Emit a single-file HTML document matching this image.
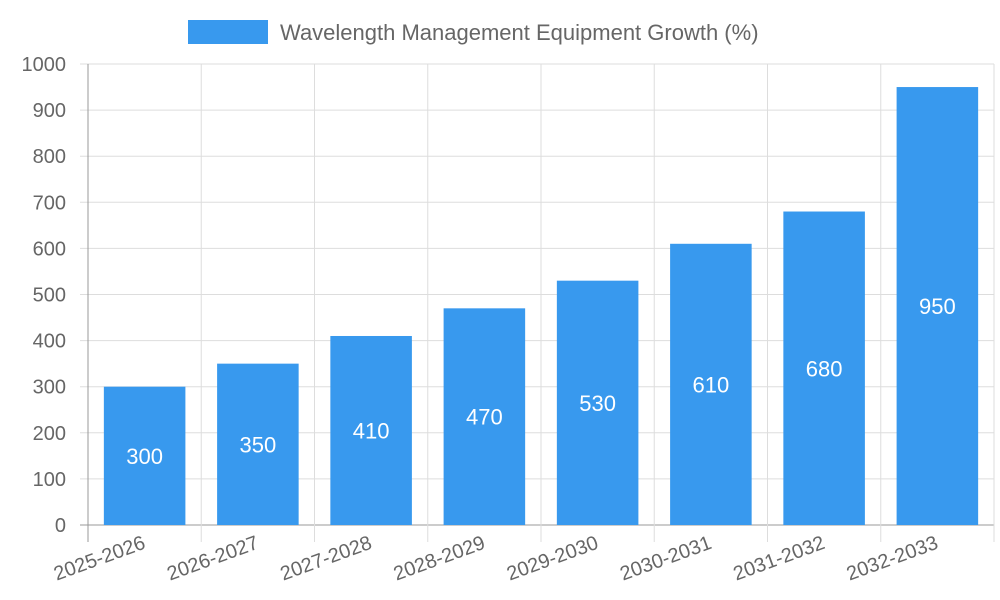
<!DOCTYPE html>
<html><head><meta charset="utf-8"><style>
body{margin:0;background:#fff;font-family:"Liberation Sans",sans-serif;}
svg{display:block}
</style></head><body>
<svg id="chart" width="1000" height="600">
<g id="legend">
<rect x="188" y="20" width="80" height="24" fill="#3899ee"/>
<text x="280" y="40" font-size="22" fill="#666">Wavelength Management Equipment Growth (%)</text>
</g>
<g id="grid"></g><g id="bars"></g><g id="axes"></g>
</svg>
<script>
const categories=["2025-2026","2026-2027","2027-2028","2028-2029","2029-2030","2030-2031","2031-2032","2032-2033"];
const values=[300,350,410,470,530,610,680,950];
const yTicks=[0,100,200,300,400,500,600,700,800,900,1000];
const L=88,R=994,T=64,B=525,yMax=1000;
const cw=(R-L)/categories.length;
const y=v=>B-(v/yMax)*(B-T);
const xc=i=>L+cw*(i+0.5);
const NS="http://www.w3.org/2000/svg";
function mk(tag,attrs,parent,txt){const e=document.createElementNS(NS,tag);for(const k in attrs)e.setAttribute(k,attrs[k]);if(txt!==undefined)e.textContent=txt;document.getElementById(parent).appendChild(e);return e;}
yTicks.forEach(t=>{
 const g=mk('line',{x1:L-8,x2:R,y1:y(t),y2:y(t),stroke:t===0?'#999':'#ddd','stroke-width':1},'grid');
 
 
 const l=mk('text',{x:66,y:y(t)+7,'font-size':20,fill:'#666','text-anchor':'end'},'axes',String(t));
 
 
});
for(let i=0;i<=categories.length;i++){
 const gx=L+cw*i;
 const g=mk('line',{x1:gx,x2:gx,y1:T,y2:B+17,stroke:i===0?'#999':'#ddd','stroke-width':1},'grid');
 
 
}
categories.forEach((c,i)=>{
 const bw=cw*0.72;
 const r=mk('rect',{x:xc(i)-bw/2,y:y(values[i]),width:bw,height:B-y(values[i]),fill:'#3899ee'},'bars');
 
 
 const v=mk('text',{x:xc(i),y:(y(values[i])+B)/2+8,'font-size':22,fill:'#fff','text-anchor':'middle'},'bars',String(values[i]));
 
 
 const lx=xc(i)+2,ly=548;
 const t=mk('text',{x:lx,y:ly,'font-size':20,fill:'#666','text-anchor':'end',transform:`rotate(-20 ${lx} ${ly})`},'axes',c);
 
 
});
</script>
</body></html>
